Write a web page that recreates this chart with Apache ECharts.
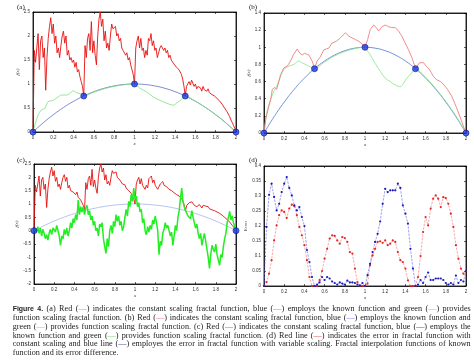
<!DOCTYPE html>
<html><head><meta charset="utf-8">
<script src="https://cdn.jsdelivr.net/npm/echarts@6/dist/echarts.min.js"></script>
<style>html,body{margin:0;padding:0;background:#fff}#c{width:474px;height:364px}</style>
</head><body><div id="c"></div>
<script>
// ---------- data ----------
const xTickMin = 0, xTickMax = 2, xTickStep = 0.2;
const knownX = [0,0.1,0.2,0.3,0.4,0.5,0.6,0.7,0.8,0.9,1,1.1,1.2,1.3,1.4,1.5,1.6,1.7,1.8,1.9,2];
const knownY = [0,0.19,0.36,0.51,0.64,0.75,0.84,0.91,0.96,0.99,1,0.99,0.96,0.91,0.84,0.75,0.64,0.51,0.36,0.19,0];
const knotX = [0,0.5,1,1.5,2];
const knotY = [0,0.75,1,0.75,0];
const knotCX = [0,2];
const knotCY = [0,0];

// constant scaling fractal function (panels a, c), sampled every 0.0125
const fracStep = 0.0125;
const redConst = [
 0,1.7,1.45,1.75,2.05,1.3,1.9,2.0,1.55,1.75,0.87,1.55,1.95,2.2,2.38,2.05,2.25,1.85,2.0,1.65,1.75,1.55,1.8,2.0,2.1,1.85,2.0,1.6,1.7,1.5,1.55,1.45,1.5,1.35,1.45,1.25,1.3,1.15,1.05,0.95,0.75,
 1.8,1.55,1.95,2.05,1.7,2.3,1.65,1.9,1.6,1.4,2.0,2.35,2.5,2.2,2.35,1.9,2.1,1.75,1.85,1.7,2.0,2.25,2.15,2.15,2.2,2.0,2.05,1.9,1.95,1.75,1.7,1.72,1.6,1.65,1.5,1.55,1.4,1.3,1.2,1.0,
 1.75,1.9,2.0,1.75,1.95,1.7,1.75,1.55,1.7,1.6,1.95,1.9,2.05,1.8,1.9,1.7,1.75,1.55,1.65,1.75,1.8,1.84,1.7,1.75,1.65,1.7,1.55,1.6,1.5,1.52,1.42,1.45,1.35,1.38,1.3,1.32,1.2,1.1,0.95,0.75,
 0.95,1.0,1.05,0.98,1.08,1.05,0.95,1.0,0.9,0.95,0.98,0.92,0.85,0.95,0.88,0.92,0.85,0.9,0.82,0.85,0.78,0.82,0.75,0.78,0.7,0.72,0.65,0.62,0.58,0.55,0.5,0.48,0.42,0.38,0.32,0.25,0.2,0.14,0.08,0
];
// function scaling fractal function (panel c)
const greenC = [
 0,0.1,-0.05,0.15,-0.1,0.1,-0.2,0.05,-0.1,-0.3,-0.15,-0.35,-0.1,0.05,-0.15,0.1,0.15,-0.05,0.2,0.0,-0.2,-0.55,-0.2,-0.3,0.05,-0.15,0.1,-0.2,0.0,0.3,0.1,0.45,0.3,0.6,0.4,1.15,0.6,0.9,0.7,0.9,0.6,
 0.85,0.95,0.6,0.75,0.4,0.55,0.2,0.35,0.0,0.1,-0.2,0.25,0.15,0.3,-0.3,-0.6,-0.85,-0.3,-0.6,0.0,0.2,-0.1,0.35,0.15,0.6,0.35,0.55,0.2,0.35,0.0,0.15,0.5,0.8,0.55,1.1,0.9,1.35,1.1,1.6,1.2,
 1.3,0.9,1.05,0.7,0.8,0.3,0.45,0.0,-0.15,0.15,-0.05,0.2,0.05,0.4,0.25,0.55,0.3,0.0,-0.9,-0.4,-0.55,-0.1,0.05,0.3,0.1,0.2,0.0,-0.2,-0.05,-0.55,-0.2,0.2,0.0,0.5,0.75,1.2,1.6,1.1,0.9,0.75,
 0.8,0.55,0.6,0.45,0.75,0.5,0.3,0.1,0.25,-0.1,-0.3,-0.1,-0.55,-0.3,-0.1,-0.4,-0.7,-1.0,-1.42,-0.9,-0.55,-0.7,-0.8,-0.5,-0.9,-1.1,-1.3,-0.9,-1.0,-0.6,-0.3,-0.1,0.3,0.5,0.72,0.4,0.55,0.3,0.15,0
];
// panel a: function scaling fractal function
const aGreenX = [0,0.049,0.082,0.115,0.148,0.197,0.247,0.28,0.33,0.362,0.395,0.428,0.477,0.5,0.6,0.7,0.8,0.9,1.0,1.053,1.118,1.184,1.25,1.316,1.382,1.414,1.464,1.5,1.6,1.7,1.8,1.9,2.0];
const aGreenY = [0,0.35,0.46,0.49,0.63,0.66,0.73,0.77,0.77,0.8,0.86,0.82,0.79,0.75,0.83,0.9,0.95,0.985,1.0,0.91,0.84,0.73,0.66,0.6,0.56,0.6,0.68,0.75,0.64,0.51,0.36,0.19,0];
// panel b
const bRedX = [0,0.016,0.039,0.066,0.082,0.105,0.125,0.138,0.164,0.197,0.23,0.263,0.29,0.329,0.355,0.378,0.401,0.444,0.477,0.5,0.526,0.559,0.592,0.641,0.674,0.717,0.757,0.806,0.839,0.872,0.905,0.938,0.98,1.0,1.026,1.053,1.086,1.112,1.135,1.168,1.2,1.234,1.266,1.3,1.332,1.365,1.398,1.431,1.464,1.487,1.5,1.54,1.58,1.605,1.638,1.678,1.71,1.75,1.783,1.816,1.859,1.901,1.941,1.974,2.0];
const bRedY = [0,0.16,0.27,0.39,0.51,0.53,0.51,0.56,0.68,0.76,0.78,0.84,0.91,0.98,0.93,0.91,0.93,0.91,0.84,0.75,0.84,0.89,0.97,0.99,1.05,1.07,1.11,1.17,1.13,1.11,1.09,1.07,1.03,1.0,1.09,1.21,1.26,1.23,1.19,1.24,1.26,1.24,1.23,1.23,1.19,1.13,1.05,0.97,0.88,0.8,0.75,0.82,0.82,0.78,0.74,0.66,0.62,0.6,0.56,0.51,0.43,0.31,0.19,0.08,0];
const bGreenX = [0,0.033,0.066,0.099,0.132,0.164,0.197,0.247,0.296,0.345,0.378,0.428,0.477,0.5,0.6,0.7,0.8,0.9,1.0,1.016,1.053,1.086,1.118,1.151,1.2,1.25,1.3,1.35,1.382,1.414,1.447,1.5,1.6,1.7,1.8,1.9,2.0];
const bGreenY = [0,0.27,0.39,0.49,0.56,0.66,0.74,0.78,0.8,0.84,0.82,0.79,0.76,0.75,0.83,0.9,0.95,0.985,1.0,0.97,0.91,0.84,0.78,0.72,0.64,0.6,0.56,0.54,0.58,0.64,0.68,0.75,0.65,0.52,0.37,0.2,0];
// panel d: errors, sampled every 0.025
const errStep = 0.025;
const errConst = [0,0.013,0.041,0.086,0.152,0.202,0.236,0.252,0.247,0.227,0.258,0.271,0.266,0.236,0.197,0.169,0.136,0.086,0.03,0,0,0,0.02,0.05,0.091,0.124,0.158,0.169,0.167,0.152,0.141,0.163,0.16,0.147,0.113,0.108,0.058,0.013,0,0,0,0.008,0.069,0.102,0.124,0.147,0.149,0.144,0.152,0.136,0.141,0.152,0.147,0.113,0.086,0.08,0.058,0.019,0,0,0,0.03,0.1,0.18,0.23,0.202,0.258,0.291,0.302,0.291,0.263,0.296,0.293,0.274,0.241,0.197,0.136,0.091,0.058,0.041,0.049];
const errVar = [0,0.197,0.304,0.341,0.297,0.252,0.274,0.313,0.341,0.363,0.327,0.302,0.269,0.252,0.263,0.23,0.2,0.12,0.08,0.03,0,0.005,0.012,0.03,0.02,0.03,0.025,0.015,0.01,0.005,0.012,0.008,0.005,0.018,0.012,0.012,0.01,0.005,0.002,0.01,0,0.036,0.074,0.113,0.147,0.174,0.215,0.274,0.324,0.313,0.319,0.319,0.319,0.341,0.327,0.269,0.241,0.208,0.124,0.058,0,0.005,0.02,0.01,0.03,0.045,0.02,0.02,0.025,0.025,0.025,0.02,0.01,0.005,0.01,0.005,0.035,0.01,0.02,0.015,0.05];

const panelLabels = ['(a)','(b)','(c)','(d)'];
const yNames = ['f(x)','f(x)','f(x)','Error'];
const yRanges = [[0,2.5,0.5],[0,1.4,0.2],[-2,2.5,0.5],[0,0.4,0.05]];

// ---------- helpers ----------
const P = (xs, ys) => xs.map((x, i) => [x, ys[i]]);
const S = (step, ys) => ys.map((y, i) => [+(i * step).toFixed(4), y]);

const grids = [
  {left:33, top:12, width:203, height:120},
  {left:264, top:13, width:202, height:120},
  {left:34, top:164, width:202, height:120},
  {left:264, top:166, width:202, height:120}
].map(g => Object.assign(g, {show:true, borderColor:'#000', borderWidth:0.8, backgroundColor:'#fff'}));

const yNameGaps = [12, 10, 14, 11];
const xAxes = [], yAxes = [];
for (let pass = 0; pass < 2; pass++) {
  for (let g = 0; g < 4; g++) {
    const main = pass === 0;
    xAxes.push({
      type:'value', gridIndex:g, min:xTickMin, max:xTickMax, interval:xTickStep,
      position: main ? 'bottom' : 'top',
      axisLine:{show:true, onZero:false, lineStyle:{color:'#000', width:0.8}},
      axisTick:{show:true, inside:true, length:2, lineStyle:{color:'#000', width:0.6}},
      axisLabel:{show:main, fontSize:4.5, color:'#333', margin:3, fontFamily:'Liberation Sans', interval:0, showMinLabel:true, showMaxLabel:true},
      splitLine:{show:false},
      name: main ? 'x' : '', nameLocation:'middle', nameGap:8,
      nameTextStyle:{fontSize:5, fontStyle:'italic', fontFamily:'Liberation Serif', color:'#333'}
    });
    const r = yRanges[g];
    yAxes.push({
      type:'value', gridIndex:g, min:r[0], max:r[1], interval:r[2],
      position: main ? 'left' : 'right',
      axisLine:{show:true, onZero:false, lineStyle:{color:'#000', width:0.8}},
      axisTick:{show:true, inside:true, length:2, lineStyle:{color:'#000', width:0.6}},
      axisLabel:{show:main, fontSize:4.5, color:'#333', margin:3, fontFamily:'Liberation Sans', showMinLabel:true, showMaxLabel:true},
      splitLine:{show:false},
      name: main ? yNames[g] : '', nameLocation:'middle', nameGap:yNameGaps[g], nameRotate:90,
      nameTextStyle:{fontSize:5, fontStyle: g===3 ? 'normal' : 'italic', fontFamily:'Liberation Serif', color:'#333'}
    });
  }
}

function line(g, data, color, width, extra) {
  return Object.assign({type:'line', xAxisIndex:g, yAxisIndex:g, data, showSymbol:false, symbol:'none',
    lineStyle:{color, width}, itemStyle:{color}, animation:false, silent:true}, extra || {});
}
function knots(g, data) {
  return {type:'scatter', xAxisIndex:g, yAxisIndex:g, data, symbol:'circle', symbolSize:6,
    itemStyle:{color:'#1a3ce8', borderColor:'#0b1b8a', borderWidth:0.8}, animation:false, silent:true, z:5, clip:false};
}

const series = [
  // (a)
  line(0, P(knownX, knownY), '#5c70c4', 0.8, {smooth:true}),
  line(0, P(aGreenX, aGreenY), '#7fe07f', 0.8, {smooth:0.3}),
  line(0, S(fracStep, redConst), '#e81010', 0.9),
  knots(0, P(knotX, knotY)),
  // (b)
  line(1, P(knownX, knownY), '#5078d0', 0.8, {smooth:true}),
  line(1, P(bGreenX, bGreenY), '#86e486', 0.8, {smooth:0.3}),
  line(1, P(bRedX, bRedY), '#f07070', 0.8),
  knots(1, P(knotX, knotY)),
  // (c)
  line(2, P(knownX, knownY), '#9aa6e6', 0.7, {smooth:true}),
  line(2, S(fracStep, redConst), '#e81010', 0.9),
  line(2, S(fracStep, greenC), '#22ee22', 1.5),
  knots(2, P(knotCX, knotCY)),
  // (d)
  line(3, S(errStep, errConst), '#f05050', 0.6, {showSymbol:true, symbol:'circle', symbolSize:2.2, lineStyle:{color:'#f07070', width:0.6, type:'dashed'}, itemStyle:{color:'#e02828'}}),
  line(3, S(errStep, errVar), '#2a2ad0', 0.6, {showSymbol:true, symbol:'circle', symbolSize:2.2, lineStyle:{color:'#6060e0', width:0.6, type:'dashed'}, itemStyle:{color:'#1a1ac0'}})
];

// ---------- caption (justified) ----------
const capColors = {T:'#222', F:'#222', r:'#e8707e', bl:'#7a7ae6', g:'#6cd66c', r2:'#d04848', bd:'#303090'};
const D = '\u2014';
const capLines = [
 [['Figure 4.','F'],[' (a) Red (','T'],[D,'r'],[') indicates the constant scaling fractal function, blue (','T'],[D,'bl'],[') employs the known function and green (','T'],[D,'g'],[') provides','T']],
 [['function scaling fractal function. (b) Red (','T'],[D,'r'],[') indicates the constant scaling fractal function, blue (','T'],[D,'bl'],[') employs the known function and','T']],
 [['green (','T'],[D,'g'],[') provides function scaling fractal function. (c) Red (','T'],[D,'r2'],[') indicates the constant scaling fractal function, blue (','T'],[D,'bd'],[') employs the','T']],
 [['known function and green (','T'],[D,'g'],[') provides function scaling fractal function. (d) Red line (','T'],[D,'r2'],[') indicates the error in fractal function with','T']],
 [['constant scaling and blue line (','T'],[D,'bd'],[') employes the error in fractal function with variable scaling. Fractal interpolation functions of known','T']],
 [['function and its error difference.','T']]
];
const ctx = document.createElement('canvas').getContext('2d');
function mw(t, f){ ctx.font = f; return ctx.measureText(t).width; }
const serifF = s => s + 'px "Liberation Serif"';
const boldF = s => 'bold ' + s + 'px "Liberation Sans"';
const ts = 20 * 106 / mw('function and its error difference.', serifF(20));
const fs = 20 * 29 / mw('Figure 4.', boldF(20));
const fontOf = k => k === 'F' ? boldF(fs) : serifF(ts);
const capLeft = 12.7, capRight = 470.7, capY0 = 309.3, capDy = 8.7;
const graphics = [];
capLines.forEach((segs, li) => {
  const words = [[]];
  segs.forEach(([text, key]) => {
    const parts = text.split(' ');
    parts.forEach((p, j) => {
      if (j > 0) words.push([]);
      if (p !== '') words[words.length - 1].push({text:p, key});
    });
  });
  const ws = words.filter(w => w.length);
  const widths = ws.map(w => w.reduce((a, s) => a + mw(s.text, fontOf(s.key)), 0));
  const total = widths.reduce((a, b) => a + b, 0);
  const justify = li < capLines.length - 1;
  const gap = justify ? (capRight - capLeft - total) / (ws.length - 1) : mw(' ', serifF(ts));
  let x = capLeft;
  const y = capY0 + li * capDy;
  ws.forEach((w, wi) => {
    let cx = x;
    w.forEach(s => {
      graphics.push({type:'text', x:cx, y:y, silent:true,
        style:{text:s.text, font:fontOf(s.key), fill:capColors[s.key], align:'left', verticalAlign:'middle', textAlign:'left', textVerticalAlign:'middle'}});
      cx += mw(s.text, fontOf(s.key));
    });
    x += widths[wi] + gap;
  });
});
const labelPos = [[17,7],[249,7],[17,160],[249,160]];
panelLabels.forEach((t, i) => {
  graphics.push({type:'text', x:labelPos[i][0], y:labelPos[i][1], silent:true,
    style:{text:t, font:'7px "Liberation Serif"', fill:'#111', align:'left', verticalAlign:'middle', textAlign:'left', textVerticalAlign:'middle'}});
});

const chart = echarts.init(document.getElementById('c'), null, {renderer:'canvas'});
chart.setOption({
  animation:false,
  backgroundColor:'#fff',
  grid:grids, xAxis:xAxes, yAxis:yAxes, series, graphic:graphics
});
</script>
</body></html>
